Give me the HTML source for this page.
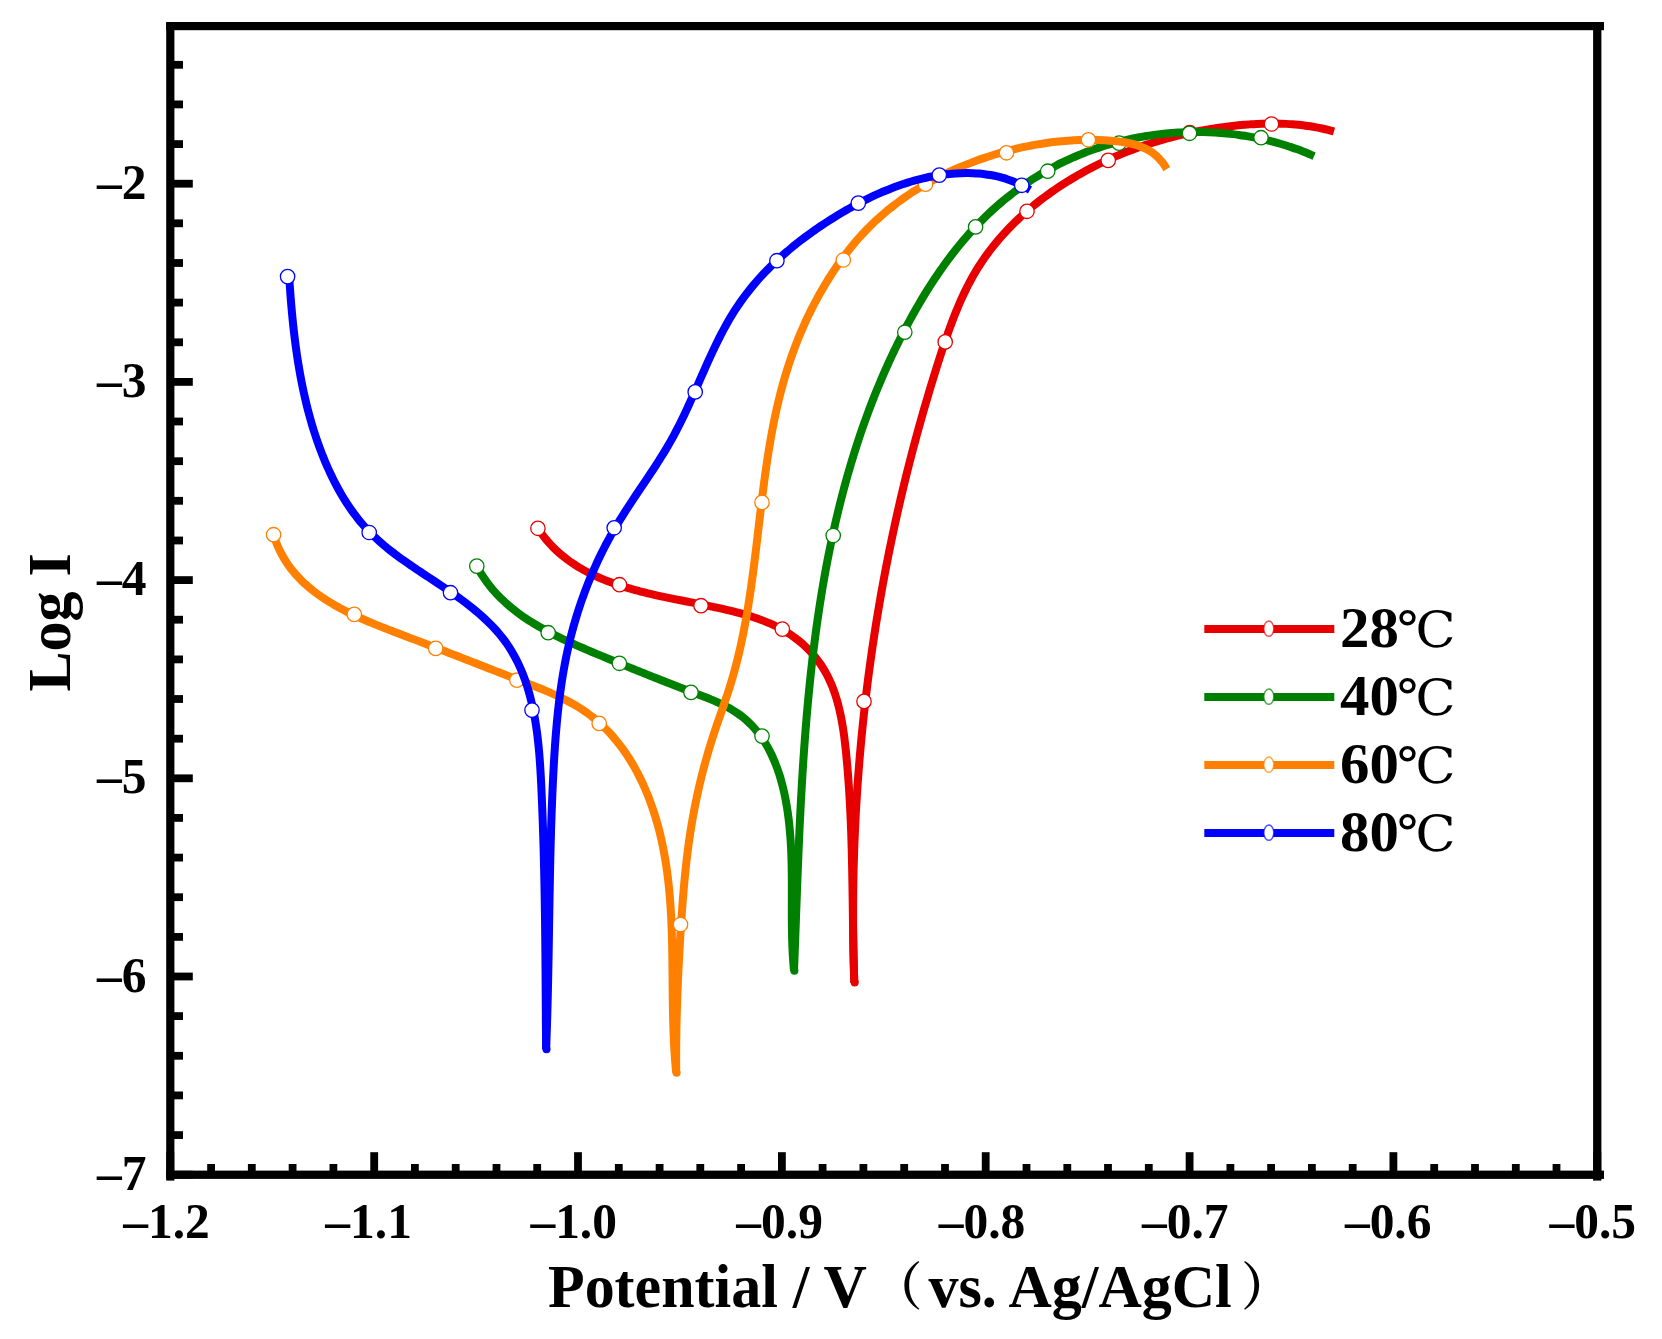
<!DOCTYPE html>
<html lang="en"><head><meta charset="utf-8"><title>Polarization curves</title>
<style>
html,body{margin:0;padding:0;background:#fff;}
body{width:1662px;height:1339px;overflow:hidden;}
svg{display:block;}
text{font-family:"Liberation Serif","Noto Serif CJK SC",serif;font-weight:bold;fill:#000;}
.tk{font-size:49.5px;}
.ti{font-size:60px;}
.pa{font-size:50px;font-family:"Noto Serif CJK SC","Liberation Serif",serif;font-weight:bold;}
.lg{font-size:56px;}
.dc{font-size:50px;font-family:"DejaVu Serif","Noto Serif CJK SC",serif;font-weight:normal;}
</style></head><body>
<svg width="1662" height="1339" viewBox="0 0 1662 1339">
<rect width="1662" height="1339" fill="#fff"/>
<g fill="none" stroke="#e80000" stroke-width="8.0" stroke-linecap="butt" stroke-linejoin="round">
<path d="M537.90,528.30C538.50,529.17 540.25,531.83 541.48,533.52C542.71,535.22 543.98,536.86 545.28,538.47C546.57,540.07 547.91,541.63 549.27,543.14C550.64,544.66 552.04,546.13 553.46,547.56C554.89,548.99 556.35,550.37 557.83,551.72C559.32,553.07 560.83,554.38 562.38,555.65C563.92,556.92 565.49,558.15 567.08,559.35C568.68,560.54 570.30,561.70 571.94,562.82C573.58,563.94 575.25,565.03 576.94,566.09C578.63,567.14 580.35,568.16 582.08,569.15C583.81,570.14 585.57,571.10 587.34,572.03C589.11,572.96 590.90,573.85 592.71,574.72C594.52,575.59 596.34,576.43 598.18,577.25C600.03,578.06 601.88,578.85 603.75,579.61C605.62,580.37 607.51,581.11 609.41,581.82C611.30,582.54 613.22,583.23 615.14,583.90C617.06,584.56 618.99,585.21 620.93,585.84C622.87,586.46 624.82,587.07 626.78,587.66C628.73,588.24 630.70,588.81 632.67,589.36C634.64,589.92 636.62,590.45 638.60,590.97C640.58,591.49 642.56,592.00 644.55,592.49C646.53,592.98 648.53,593.46 650.52,593.92C652.51,594.39 654.50,594.84 656.50,595.29C658.49,595.73 660.49,596.16 662.49,596.59C664.49,597.02 666.49,597.44 668.50,597.85C670.50,598.26 672.50,598.67 674.51,599.07C676.51,599.47 678.52,599.87 680.53,600.27C682.54,600.67 684.55,601.06 686.56,601.45C688.57,601.85 690.58,602.24 692.59,602.63C694.60,603.03 696.61,603.43 698.63,603.83C700.64,604.23 702.65,604.63 704.67,605.04C706.68,605.45 708.70,605.86 710.71,606.29C712.73,606.71 714.74,607.14 716.75,607.58C718.77,608.02 720.78,608.46 722.80,608.92C724.81,609.38 726.83,609.85 728.84,610.33C730.85,610.82 732.86,611.31 734.87,611.83C736.88,612.34 738.88,612.87 740.88,613.42C742.88,613.97 744.87,614.53 746.85,615.12C748.83,615.72 750.80,616.32 752.75,616.96C754.71,617.60 756.66,618.26 758.59,618.95C760.52,619.64 762.43,620.36 764.33,621.11C766.22,621.86 768.10,622.64 769.96,623.45C771.81,624.26 773.65,625.11 775.46,625.99C777.27,626.88 779.06,627.80 780.82,628.76C782.58,629.72 784.31,630.72 786.02,631.76C787.72,632.80 789.40,633.88 791.04,635.00C792.68,636.12 794.29,637.28 795.87,638.48C797.45,639.67 799.00,640.91 800.51,642.18C802.02,643.45 803.50,644.76 804.94,646.10C806.38,647.44 807.78,648.82 809.14,650.23C810.51,651.65 811.83,653.10 813.12,654.58C814.40,656.06 815.64,657.57 816.84,659.12C818.04,660.67 819.20,662.25 820.31,663.86C821.43,665.47 822.49,667.11 823.52,668.78C824.54,670.45 825.51,672.16 826.44,673.89C827.37,675.62 828.25,677.38 829.10,679.16C829.94,680.95 830.74,682.76 831.50,684.59C832.27,686.42 832.99,688.28 833.67,690.16C834.36,692.04 835.01,693.94 835.62,695.86C836.24,697.78 836.82,699.72 837.37,701.68C837.92,703.63 838.43,705.61 838.92,707.60C839.41,709.58 839.87,711.59 840.30,713.60C840.74,715.62 841.15,717.65 841.53,719.68C841.92,721.72 842.27,723.77 842.62,725.83C842.96,727.88 843.27,729.95 843.58,732.02C843.88,734.09 844.16,736.17 844.43,738.25C844.69,740.32 844.94,742.41 845.18,744.49C845.42,746.58 845.65,748.67 845.86,750.75C846.08,752.84 846.28,754.92 846.48,757.01C846.68,759.09 846.87,761.17 847.05,763.24C847.23,765.32 847.41,767.39 847.58,769.46C847.75,771.52 847.92,773.59 848.08,775.65C848.24,777.71 848.39,779.77 848.54,781.82C848.68,783.88 848.82,785.93 848.96,787.98C849.10,790.02 849.23,792.07 849.35,794.11C849.48,796.16 849.60,798.20 849.71,800.23C849.83,802.27 849.94,804.31 850.05,806.34C850.15,808.37 850.25,810.40 850.35,812.43C850.45,814.46 850.54,816.49 850.63,818.51C850.72,820.54 850.80,822.56 850.88,824.58C850.96,826.61 851.04,828.63 851.11,830.64C851.19,832.66 851.26,834.68 851.32,836.70C851.39,838.71 851.45,840.73 851.51,842.74C851.57,844.75 851.63,846.77 851.69,848.78C851.74,850.79 851.79,852.80 851.84,854.81C851.89,856.82 851.94,858.83 851.99,860.84C852.03,862.85 852.07,864.86 852.11,866.87C852.16,868.88 852.19,870.89 852.23,872.90C852.27,874.90 852.31,876.91 852.34,878.92C852.38,880.93 852.41,882.94 852.44,884.95C852.47,886.96 852.51,888.97 852.54,890.98C852.57,892.99 852.60,895.00 852.63,897.01C852.65,899.03 852.68,901.04 852.71,903.05C852.74,905.07 852.77,907.08 852.80,909.10C852.82,911.12 852.85,913.13 852.88,915.15C852.91,917.17 852.94,919.19 852.97,921.22C853.00,923.24 853.03,925.26 853.06,927.29C853.09,929.31 853.12,931.34 853.15,933.37C853.19,935.40 853.22,937.43 853.26,939.47C853.29,941.50 853.33,943.54 853.37,945.58C853.41,947.62 853.45,949.66 853.49,951.70C853.53,953.75 853.57,955.80 853.62,957.85C853.67,959.90 853.72,961.95 853.77,964.01C853.82,966.06 853.87,968.12 853.93,970.18C853.98,972.25 854.04,974.31 854.11,976.38C854.17,978.45 854.27,981.56 854.30,982.60"/>
<path d="M854.30,982.60C854.27,981.59 854.16,978.55 854.10,976.53C854.03,974.51 853.97,972.48 853.91,970.46C853.85,968.44 853.79,966.42 853.74,964.39C853.68,962.37 853.63,960.35 853.59,958.33C853.54,956.31 853.50,954.28 853.45,952.26C853.41,950.24 853.38,948.22 853.34,946.20C853.31,944.18 853.28,942.16 853.25,940.14C853.22,938.12 853.20,936.10 853.18,934.08C853.16,932.06 853.14,930.04 853.12,928.02C853.11,926.00 853.10,923.98 853.09,921.96C853.08,919.94 853.08,917.93 853.08,915.91C853.08,913.89 853.08,911.87 853.08,909.85C853.09,907.84 853.10,905.82 853.11,903.80C853.12,901.79 853.13,899.77 853.15,897.75C853.17,895.74 853.19,893.72 853.21,891.70C853.24,889.69 853.27,887.67 853.30,885.66C853.33,883.64 853.36,881.63 853.40,879.61C853.44,877.60 853.48,875.59 853.52,873.57C853.57,871.56 853.61,869.54 853.66,867.53C853.72,865.52 853.77,863.50 853.83,861.49C853.88,859.48 853.94,857.47 854.01,855.46C854.07,853.44 854.14,851.43 854.21,849.42C854.28,847.41 854.35,845.40 854.43,843.39C854.50,841.38 854.58,839.37 854.67,837.36C854.75,835.35 854.84,833.34 854.93,831.33C855.02,829.32 855.11,827.31 855.21,825.30C855.30,823.29 855.40,821.28 855.50,819.27C855.61,817.27 855.71,815.26 855.82,813.25C855.93,811.24 856.04,809.24 856.16,807.23C856.28,805.22 856.40,803.22 856.52,801.21C856.64,799.21 856.77,797.20 856.90,795.19C857.02,793.19 857.16,791.18 857.29,789.18C857.43,787.18 857.57,785.17 857.71,783.17C857.85,781.16 858.00,779.16 858.14,777.16C858.29,775.15 858.45,773.15 858.60,771.15C858.76,769.15 858.91,767.14 859.08,765.14C859.24,763.14 859.40,761.14 859.57,759.14C859.74,757.14 859.91,755.14 860.09,753.14C860.26,751.14 860.44,749.14 860.62,747.14C860.80,745.14 860.99,743.14 861.17,741.14C861.36,739.14 861.55,737.15 861.75,735.15C861.94,733.15 862.14,731.15 862.34,729.16C862.54,727.16 862.75,725.16 862.96,723.17C863.16,721.17 863.37,719.17 863.59,717.18C863.80,715.18 864.02,713.19 864.24,711.19C864.46,709.20 864.69,707.20 864.91,705.21C865.14,703.22 865.37,701.22 865.61,699.23C865.84,697.24 866.08,695.24 866.32,693.25C866.56,691.26 866.80,689.27 867.05,687.28C867.30,685.29 867.55,683.30 867.80,681.31C868.06,679.31 868.31,677.32 868.57,675.34C868.83,673.35 869.10,671.36 869.36,669.37C869.63,667.38 869.90,665.39 870.18,663.40C870.45,661.41 870.73,659.43 871.01,657.44C871.29,655.45 871.57,653.47 871.86,651.48C872.14,649.49 872.43,647.51 872.73,645.52C873.02,643.54 873.32,641.55 873.62,639.57C873.92,637.59 874.22,635.60 874.53,633.62C874.84,631.63 875.15,629.65 875.46,627.67C875.77,625.69 876.09,623.70 876.41,621.72C876.73,619.74 877.05,617.76 877.38,615.78C877.70,613.80 878.03,611.82 878.37,609.84C878.70,607.86 879.04,605.88 879.38,603.90C879.72,601.92 880.06,599.94 880.41,597.97C880.75,595.99 881.10,594.01 881.46,592.03C881.81,590.06 882.17,588.08 882.53,586.10C882.89,584.13 883.25,582.15 883.61,580.18C883.98,578.20 884.35,576.23 884.72,574.25C885.10,572.28 885.47,570.31 885.85,568.33C886.23,566.36 886.62,564.39 887.00,562.42C887.39,560.44 887.78,558.47 888.17,556.50C888.56,554.53 888.96,552.56 889.36,550.59C889.76,548.62 890.16,546.65 890.57,544.68C890.97,542.71 891.38,540.74 891.80,538.78C892.21,536.81 892.63,534.84 893.05,532.87C893.47,530.91 893.89,528.94 894.32,526.97C894.74,525.01 895.17,523.04 895.60,521.08C896.04,519.11 896.47,517.15 896.91,515.18C897.35,513.22 897.80,511.26 898.24,509.29C898.69,507.33 899.14,505.37 899.59,503.41C900.04,501.45 900.50,499.48 900.96,497.52C901.42,495.56 901.88,493.60 902.35,491.64C902.81,489.68 903.28,487.72 903.76,485.77C904.23,483.81 904.71,481.85 905.19,479.89C905.66,477.93 906.15,475.98 906.63,474.02C907.12,472.06 907.61,470.11 908.10,468.15C908.60,466.20 909.09,464.24 909.59,462.29C910.09,460.33 910.60,458.38 911.10,456.43C911.61,454.48 912.12,452.52 912.63,450.57C913.14,448.62 913.66,446.67 914.18,444.72C914.70,442.77 915.22,440.82 915.75,438.87C916.28,436.92 916.81,434.97 917.34,433.02C917.87,431.07 918.41,429.12 918.95,427.18C919.49,425.23 920.03,423.28 920.58,421.33C921.12,419.39 921.67,417.44 922.23,415.50C922.78,413.55 923.34,411.61 923.90,409.66C924.46,407.72 925.02,405.78 925.59,403.83C926.15,401.89 926.72,399.95 927.30,398.01C927.87,396.07 928.45,394.13 929.03,392.19C929.61,390.25 930.19,388.31 930.78,386.37C931.37,384.43 931.96,382.49 932.55,380.55C933.14,378.61 933.74,376.68 934.34,374.74C934.94,372.80 935.55,370.87 936.15,368.93C936.76,367.00 937.37,365.06 937.98,363.13C938.60,361.19 939.21,359.26 939.84,357.33C940.46,355.39 941.08,353.46 941.71,351.53C942.34,349.60 942.98,347.67 943.62,345.75C944.26,343.82 944.91,341.90 945.56,339.98C946.22,338.06 946.88,336.15 947.55,334.24C948.22,332.33 948.90,330.42 949.59,328.52C950.28,326.62 950.98,324.72 951.69,322.83C952.40,320.94 953.12,319.05 953.85,317.18C954.59,315.30 955.33,313.43 956.09,311.56C956.85,309.70 957.62,307.84 958.40,306.00C959.19,304.15 959.99,302.31 960.81,300.48C961.62,298.65 962.45,296.83 963.30,295.02C964.15,293.21 965.01,291.41 965.89,289.62C966.77,287.83 967.67,286.05 968.59,284.28C969.51,282.52 970.45,280.76 971.40,279.02C972.36,277.28 973.34,275.54 974.34,273.83C975.34,272.11 976.35,270.41 977.40,268.72C978.44,267.03 979.50,265.35 980.59,263.69C981.68,262.03 982.79,260.38 983.92,258.75C985.05,257.12 986.20,255.50 987.37,253.90C988.54,252.29 989.74,250.70 990.95,249.13C992.16,247.55 993.40,245.99 994.65,244.45C995.90,242.90 997.17,241.37 998.47,239.85C999.76,238.34 1001.07,236.84 1002.40,235.35C1003.72,233.86 1005.07,232.39 1006.44,230.93C1007.80,229.47 1009.18,228.03 1010.58,226.60C1011.98,225.17 1013.40,223.76 1014.83,222.36C1016.26,220.96 1017.71,219.58 1019.18,218.21C1020.64,216.84 1022.12,215.48 1023.61,214.14C1025.11,212.80 1026.62,211.48 1028.14,210.17C1029.67,208.86 1031.21,207.56 1032.76,206.28C1034.31,205.00 1035.88,203.74 1037.46,202.49C1039.04,201.24 1040.63,200.00 1042.24,198.78C1043.84,197.56 1045.46,196.36 1047.09,195.17C1048.72,193.98 1050.36,192.80 1052.02,191.64C1053.67,190.48 1055.33,189.34 1057.01,188.21C1058.68,187.08 1060.37,185.97 1062.06,184.87C1063.76,183.77 1065.47,182.69 1067.18,181.62C1068.89,180.55 1070.62,179.50 1072.35,178.46C1074.09,177.42 1075.83,176.40 1077.58,175.39C1079.33,174.38 1081.09,173.39 1082.86,172.42C1084.63,171.44 1086.41,170.48 1088.19,169.53C1089.98,168.58 1091.77,167.65 1093.57,166.73C1095.37,165.82 1097.18,164.92 1099.00,164.03C1100.82,163.14 1102.64,162.27 1104.47,161.41C1106.30,160.56 1108.14,159.72 1109.99,158.89C1111.84,158.06 1113.69,157.25 1115.55,156.45C1117.41,155.65 1119.27,154.87 1121.15,154.10C1123.02,153.34 1124.90,152.58 1126.78,151.85C1128.67,151.11 1130.56,150.38 1132.45,149.67C1134.35,148.97 1136.25,148.27 1138.16,147.59C1140.07,146.91 1141.98,146.25 1143.90,145.60C1145.82,144.95 1147.74,144.31 1149.67,143.69C1151.59,143.07 1153.53,142.46 1155.46,141.87C1157.40,141.27 1159.34,140.70 1161.28,140.13C1163.23,139.57 1165.18,139.02 1167.13,138.48C1169.08,137.95 1171.04,137.43 1173.00,136.92C1174.96,136.42 1176.92,135.93 1178.89,135.45C1180.86,134.97 1182.83,134.51 1184.80,134.06C1186.77,133.61 1188.75,133.17 1190.73,132.75C1192.70,132.33 1194.68,131.92 1196.67,131.53C1198.65,131.14 1200.63,130.76 1202.62,130.40C1204.61,130.03 1206.59,129.68 1208.58,129.34C1210.57,129.01 1212.56,128.69 1214.56,128.38C1216.55,128.07 1218.54,127.77 1220.54,127.49C1222.53,127.21 1224.53,126.95 1226.52,126.69C1228.52,126.44 1230.52,126.20 1232.51,125.98C1234.51,125.75 1236.51,125.54 1238.51,125.34C1240.50,125.14 1242.50,124.96 1244.50,124.79C1246.49,124.62 1248.49,124.47 1250.49,124.33C1252.48,124.19 1254.48,124.07 1256.48,123.97C1258.47,123.86 1260.47,123.77 1262.46,123.71C1264.46,123.64 1266.45,123.59 1268.45,123.56C1270.44,123.53 1272.44,123.52 1274.43,123.53C1276.42,123.55 1278.42,123.58 1280.41,123.63C1282.40,123.69 1284.39,123.77 1286.38,123.87C1288.38,123.97 1290.37,124.09 1292.36,124.25C1294.35,124.40 1296.33,124.57 1298.32,124.77C1300.31,124.97 1302.30,125.20 1304.28,125.46C1306.27,125.71 1308.26,125.99 1310.24,126.31C1312.22,126.62 1314.21,126.96 1316.19,127.33C1318.17,127.70 1320.15,128.10 1322.13,128.53C1324.11,128.96 1326.09,129.42 1328.07,129.92C1330.05,130.41 1333.01,131.24 1334.00,131.50"/>
</g>
<circle cx="854.7" cy="982.6" r="4.0" fill="#e80000"/>
<g fill="#fff" stroke="#e80000" stroke-width="1.3">
<circle cx="537.9" cy="528.3" r="7.2"/>
<circle cx="619.5" cy="584.7" r="7.2"/>
<circle cx="701.0" cy="605.7" r="7.2"/>
<circle cx="782.3" cy="629.1" r="7.2"/>
<circle cx="864.0" cy="701.4" r="7.2"/>
<circle cx="945.2" cy="341.9" r="7.2"/>
<circle cx="1027.0" cy="211.3" r="7.2"/>
<circle cx="1108.2" cy="160.4" r="7.2"/>
<circle cx="1189.7" cy="132.6" r="7.2"/>
<circle cx="1271.5" cy="124.0" r="7.2"/>
</g>
<g fill="none" stroke="#008000" stroke-width="8.0" stroke-linecap="butt" stroke-linejoin="round">
<path d="M476.80,566.10C477.31,567.01 478.81,569.79 479.88,571.58C480.94,573.37 482.04,575.12 483.17,576.83C484.31,578.54 485.48,580.22 486.68,581.86C487.89,583.50 489.13,585.10 490.39,586.67C491.66,588.24 492.96,589.78 494.29,591.28C495.62,592.79 496.99,594.26 498.38,595.70C499.76,597.14 501.18,598.55 502.63,599.93C504.07,601.31 505.55,602.66 507.04,603.98C508.54,605.30 510.06,606.60 511.61,607.86C513.15,609.13 514.72,610.37 516.31,611.59C517.90,612.80 519.52,613.99 521.15,615.16C522.78,616.32 524.44,617.46 526.11,618.58C527.78,619.70 529.47,620.80 531.18,621.88C532.88,622.95 534.61,624.01 536.35,625.04C538.09,626.08 539.84,627.09 541.61,628.09C543.38,629.09 545.16,630.07 546.95,631.03C548.75,632.00 550.55,632.94 552.37,633.88C554.18,634.81 556.01,635.72 557.85,636.63C559.68,637.53 561.52,638.42 563.37,639.30C565.22,640.17 567.08,641.04 568.94,641.89C570.81,642.75 572.68,643.59 574.55,644.42C576.42,645.26 578.29,646.08 580.17,646.90C582.05,647.72 583.93,648.52 585.81,649.33C587.68,650.13 589.57,650.92 591.44,651.71C593.32,652.50 595.20,653.29 597.07,654.07C598.95,654.85 600.82,655.63 602.68,656.41C604.55,657.19 606.42,657.96 608.28,658.73C610.14,659.50 612.00,660.27 613.85,661.03C615.71,661.80 617.56,662.56 619.42,663.33C621.27,664.09 623.13,664.85 624.98,665.61C626.83,666.36 628.68,667.12 630.54,667.87C632.39,668.63 634.25,669.38 636.10,670.13C637.96,670.88 639.81,671.63 641.67,672.38C643.53,673.13 645.40,673.88 647.26,674.62C649.13,675.37 650.99,676.12 652.87,676.86C654.74,677.61 656.61,678.35 658.50,679.09C660.38,679.84 662.26,680.58 664.15,681.32C666.05,682.07 667.94,682.81 669.85,683.55C671.75,684.29 673.66,685.04 675.58,685.78C677.49,686.52 679.42,687.26 681.35,688.01C683.28,688.75 685.22,689.49 687.17,690.24C689.12,690.98 691.08,691.72 693.05,692.47C695.01,693.22 696.99,693.96 698.96,694.72C700.94,695.48 702.92,696.24 704.88,697.02C706.85,697.80 708.81,698.58 710.76,699.40C712.71,700.21 714.64,701.03 716.55,701.89C718.46,702.74 720.36,703.62 722.22,704.52C724.08,705.43 725.92,706.37 727.72,707.34C729.52,708.31 731.29,709.32 733.01,710.37C734.73,711.42 736.42,712.50 738.05,713.64C739.68,714.77 741.27,715.95 742.80,717.18C744.34,718.40 745.82,719.68 747.26,720.99C748.71,722.30 750.10,723.65 751.45,725.05C752.80,726.44 754.10,727.87 755.36,729.34C756.62,730.81 757.83,732.32 759.01,733.86C760.18,735.40 761.31,736.98 762.41,738.59C763.50,740.20 764.55,741.84 765.56,743.51C766.57,745.18 767.55,746.88 768.48,748.61C769.42,750.34 770.31,752.10 771.18,753.88C772.04,755.66 772.86,757.46 773.66,759.29C774.45,761.12 775.20,762.97 775.93,764.84C776.65,766.72 777.34,768.61 778.00,770.52C778.66,772.43 779.29,774.36 779.89,776.30C780.49,778.24 781.05,780.20 781.59,782.18C782.13,784.15 782.65,786.13 783.13,788.13C783.62,790.12 784.07,792.13 784.50,794.15C784.94,796.16 785.34,798.19 785.73,800.21C786.11,802.24 786.47,804.28 786.80,806.32C787.14,808.35 787.45,810.40 787.75,812.44C788.04,814.48 788.31,816.53 788.57,818.57C788.82,820.61 789.05,822.66 789.27,824.70C789.49,826.74 789.68,828.78 789.87,830.82C790.05,832.86 790.21,834.90 790.36,836.94C790.51,838.98 790.65,841.01 790.77,843.05C790.89,845.09 791.00,847.12 791.10,849.16C791.19,851.20 791.28,853.23 791.35,855.27C791.43,857.30 791.49,859.33 791.54,861.37C791.60,863.40 791.64,865.43 791.68,867.46C791.71,869.50 791.74,871.53 791.77,873.56C791.79,875.59 791.80,877.62 791.82,879.65C791.83,881.68 791.83,883.71 791.84,885.74C791.84,887.77 791.84,889.80 791.84,891.82C791.84,893.85 791.83,895.88 791.83,897.91C791.83,899.93 791.82,901.96 791.82,903.99C791.82,906.01 791.81,908.04 791.81,910.07C791.81,912.09 791.82,914.12 791.82,916.14C791.83,918.17 791.84,920.20 791.85,922.22C791.87,924.25 791.89,926.27 791.92,928.30C791.95,930.32 791.98,932.34 792.02,934.37C792.07,936.39 792.12,938.42 792.18,940.44C792.24,942.47 792.31,944.49 792.39,946.51C792.47,948.54 792.57,950.56 792.67,952.59C792.78,954.61 792.89,956.63 793.03,958.66C793.16,960.68 793.31,962.70 793.47,964.73C793.63,966.75 793.91,969.79 794.00,970.80"/>
<path d="M794.00,970.80C794.04,969.81 794.16,966.84 794.23,964.85C794.31,962.87 794.39,960.89 794.46,958.90C794.54,956.92 794.62,954.93 794.69,952.94C794.77,950.96 794.84,948.97 794.92,946.98C794.99,944.99 795.06,943.00 795.14,941.00C795.21,939.01 795.29,937.02 795.36,935.02C795.43,933.03 795.51,931.03 795.58,929.03C795.65,927.04 795.72,925.04 795.80,923.04C795.87,921.04 795.94,919.04 796.02,917.04C796.09,915.03 796.16,913.03 796.24,911.03C796.31,909.02 796.38,907.02 796.46,905.01C796.53,903.01 796.61,901.00 796.68,898.99C796.76,896.99 796.83,894.98 796.91,892.97C796.98,890.96 797.06,888.95 797.13,886.94C797.21,884.93 797.29,882.91 797.36,880.90C797.44,878.89 797.52,876.87 797.60,874.86C797.68,872.85 797.76,870.83 797.84,868.81C797.92,866.80 798.00,864.78 798.08,862.76C798.16,860.75 798.24,858.73 798.33,856.71C798.41,854.69 798.50,852.67 798.58,850.65C798.67,848.63 798.75,846.61 798.84,844.59C798.93,842.57 799.02,840.55 799.11,838.53C799.20,836.50 799.29,834.48 799.38,832.46C799.47,830.44 799.57,828.41 799.66,826.39C799.76,824.36 799.86,822.34 799.95,820.32C800.05,818.29 800.15,816.27 800.25,814.24C800.35,812.21 800.46,810.19 800.56,808.16C800.66,806.14 800.77,804.11 800.88,802.08C800.99,800.06 801.09,798.03 801.21,796.00C801.32,793.98 801.43,791.95 801.54,789.92C801.66,787.89 801.78,785.87 801.89,783.84C802.01,781.81 802.13,779.78 802.26,777.75C802.38,775.73 802.50,773.70 802.63,771.67C802.76,769.64 802.89,767.61 803.02,765.58C803.15,763.56 803.28,761.53 803.42,759.50C803.55,757.47 803.69,755.44 803.83,753.41C803.97,751.39 804.12,749.36 804.26,747.33C804.41,745.30 804.56,743.27 804.71,741.25C804.86,739.22 805.01,737.19 805.17,735.16C805.32,733.14 805.48,731.11 805.64,729.08C805.80,727.06 805.97,725.03 806.13,723.00C806.30,720.98 806.47,718.95 806.64,716.93C806.81,714.90 806.99,712.87 807.17,710.85C807.35,708.82 807.53,706.80 807.71,704.77C807.90,702.75 808.08,700.73 808.27,698.70C808.46,696.68 808.66,694.66 808.86,692.63C809.05,690.61 809.25,688.59 809.46,686.57C809.66,684.55 809.87,682.53 810.08,680.51C810.29,678.49 810.50,676.47 810.72,674.45C810.94,672.43 811.16,670.41 811.38,668.39C811.61,666.37 811.84,664.36 812.07,662.34C812.30,660.32 812.54,658.31 812.78,656.29C813.01,654.28 813.26,652.26 813.50,650.25C813.75,648.24 814.00,646.22 814.26,644.21C814.51,642.20 814.77,640.19 815.03,638.18C815.30,636.17 815.56,634.16 815.83,632.15C816.11,630.14 816.38,628.13 816.66,626.13C816.94,624.12 817.22,622.11 817.51,620.11C817.80,618.11 818.09,616.10 818.39,614.10C818.68,612.10 818.98,610.10 819.29,608.09C819.59,606.09 819.90,604.09 820.22,602.10C820.53,600.10 820.85,598.10 821.17,596.11C821.50,594.11 821.82,592.11 822.16,590.12C822.49,588.13 822.83,586.13 823.17,584.14C823.51,582.15 823.86,580.16 824.21,578.17C824.56,576.19 824.92,574.20 825.28,572.21C825.64,570.23 826.01,568.24 826.38,566.26C826.75,564.27 827.13,562.29 827.51,560.31C827.89,558.33 828.28,556.35 828.67,554.37C829.07,552.40 829.46,550.42 829.87,548.45C830.27,546.47 830.68,544.50 831.09,542.53C831.50,540.55 831.92,538.58 832.35,536.62C832.77,534.65 833.20,532.68 833.64,530.71C834.07,528.75 834.51,526.79 834.96,524.82C835.41,522.86 835.86,520.90 836.32,518.94C836.78,516.98 837.24,515.03 837.71,513.07C838.18,511.12 838.66,509.16 839.14,507.21C839.62,505.26 840.11,503.31 840.60,501.36C841.09,499.41 841.59,497.47 842.10,495.52C842.60,493.58 843.12,491.64 843.63,489.69C844.15,487.75 844.67,485.82 845.21,483.88C845.74,481.94 846.27,480.01 846.81,478.07C847.36,476.14 847.91,474.21 848.46,472.28C849.02,470.35 849.58,468.43 850.15,466.50C850.72,464.58 851.29,462.65 851.87,460.73C852.45,458.81 853.04,456.90 853.64,454.98C854.23,453.06 854.83,451.15 855.44,449.24C856.05,447.33 856.67,445.42 857.29,443.51C857.91,441.60 858.54,439.70 859.17,437.79C859.81,435.89 860.45,433.99 861.10,432.09C861.75,430.19 862.41,428.30 863.07,426.41C863.74,424.51 864.41,422.62 865.09,420.73C865.76,418.84 866.45,416.96 867.14,415.07C867.83,413.19 868.53,411.31 869.24,409.43C869.95,407.55 870.66,405.67 871.39,403.80C872.11,401.93 872.84,400.06 873.57,398.19C874.31,396.32 875.06,394.45 875.81,392.59C876.56,390.73 877.32,388.87 878.09,387.01C878.86,385.15 879.63,383.29 880.41,381.44C881.20,379.59 881.99,377.74 882.79,375.89C883.59,374.04 884.39,372.20 885.21,370.36C886.02,368.52 886.84,366.68 887.67,364.84C888.51,363.00 889.34,361.17 890.19,359.34C891.04,357.51 891.89,355.68 892.76,353.86C893.62,352.03 894.49,350.21 895.37,348.39C896.25,346.57 897.14,344.76 898.03,342.95C898.93,341.13 899.84,339.32 900.75,337.52C901.66,335.71 902.58,333.91 903.52,332.11C904.45,330.31 905.38,328.51 906.33,326.71C907.28,324.92 908.24,323.13 909.20,321.34C910.17,319.56 911.14,317.77 912.12,316.00C913.11,314.22 914.10,312.44 915.10,310.68C916.10,308.91 917.12,307.14 918.14,305.39C919.16,303.63 920.19,301.88 921.23,300.13C922.27,298.38 923.32,296.64 924.38,294.91C925.44,293.17 926.51,291.45 927.58,289.72C928.66,288.00 929.75,286.29 930.85,284.58C931.95,282.88 933.06,281.18 934.18,279.48C935.30,277.79 936.43,276.11 937.58,274.43C938.72,272.76 939.87,271.09 941.03,269.43C942.20,267.77 943.37,266.12 944.55,264.48C945.74,262.84 946.93,261.21 948.14,259.59C949.35,257.97 950.57,256.36 951.80,254.76C953.03,253.16 954.27,251.56 955.52,249.98C956.77,248.40 958.04,246.83 959.31,245.27C960.59,243.72 961.87,242.17 963.17,240.63C964.47,239.10 965.78,237.57 967.11,236.06C968.43,234.55 969.77,233.05 971.12,231.56C972.46,230.07 973.82,228.60 975.20,227.14C976.57,225.68 977.95,224.23 979.35,222.79C980.75,221.36 982.16,219.93 983.58,218.53C985.01,217.12 986.44,215.73 987.89,214.35C989.34,212.97 990.81,211.60 992.28,210.25C993.76,208.90 995.25,207.57 996.75,206.25C998.25,204.93 999.76,203.62 1001.29,202.34C1002.82,201.05 1004.36,199.77 1005.91,198.51C1007.46,197.26 1009.03,196.01 1010.60,194.79C1012.18,193.56 1013.77,192.35 1015.37,191.15C1016.97,189.96 1018.58,188.78 1020.21,187.62C1021.83,186.45 1023.47,185.31 1025.11,184.18C1026.76,183.05 1028.42,181.93 1030.09,180.84C1031.76,179.74 1033.44,178.66 1035.13,177.60C1036.83,176.54 1038.53,175.49 1040.25,174.46C1041.96,173.43 1043.69,172.42 1045.42,171.43C1047.16,170.43 1048.90,169.46 1050.66,168.50C1052.42,167.54 1054.19,166.60 1055.96,165.68C1057.74,164.76 1059.53,163.85 1061.33,162.96C1063.12,162.08 1064.93,161.21 1066.75,160.36C1068.57,159.51 1070.39,158.68 1072.23,157.87C1074.07,157.05 1075.91,156.26 1077.77,155.49C1079.62,154.71 1081.49,153.95 1083.36,153.22C1085.24,152.48 1087.12,151.76 1089.01,151.06C1090.90,150.36 1092.80,149.68 1094.70,149.02C1096.61,148.36 1098.53,147.72 1100.45,147.10C1102.37,146.47 1104.30,145.87 1106.23,145.29C1108.17,144.70 1110.11,144.13 1112.06,143.59C1114.01,143.04 1115.97,142.51 1117.93,142.01C1119.89,141.50 1121.86,141.01 1123.83,140.54C1125.80,140.07 1127.78,139.62 1129.76,139.19C1131.74,138.76 1133.73,138.35 1135.72,137.95C1137.72,137.56 1139.71,137.19 1141.71,136.83C1143.71,136.48 1145.72,136.15 1147.73,135.83C1149.74,135.52 1151.75,135.22 1153.76,134.94C1155.78,134.67 1157.79,134.41 1159.82,134.17C1161.84,133.94 1163.86,133.72 1165.88,133.52C1167.91,133.32 1169.94,133.14 1171.96,132.99C1173.99,132.83 1176.02,132.69 1178.05,132.57C1180.09,132.45 1182.12,132.35 1184.15,132.27C1186.18,132.19 1188.22,132.13 1190.25,132.09C1192.29,132.04 1194.32,132.02 1196.35,132.02C1198.39,132.02 1200.42,132.04 1202.45,132.08C1204.49,132.12 1206.52,132.17 1208.55,132.25C1210.58,132.33 1212.61,132.43 1214.64,132.54C1216.66,132.66 1218.69,132.80 1220.71,132.96C1222.74,133.11 1224.76,133.29 1226.78,133.49C1228.80,133.69 1230.81,133.90 1232.83,134.14C1234.84,134.38 1236.85,134.64 1238.85,134.92C1240.86,135.19 1242.86,135.49 1244.86,135.81C1246.86,136.13 1248.85,136.47 1250.84,136.82C1252.83,137.18 1254.81,137.56 1256.79,137.96C1258.77,138.36 1260.75,138.78 1262.71,139.22C1264.68,139.66 1266.64,140.12 1268.60,140.60C1270.56,141.08 1272.51,141.58 1274.45,142.11C1276.39,142.63 1278.33,143.17 1280.26,143.73C1282.19,144.29 1284.11,144.88 1286.03,145.48C1287.94,146.09 1289.85,146.71 1291.75,147.36C1293.64,148.00 1295.53,148.67 1297.42,149.35C1299.30,150.04 1301.17,150.75 1303.03,151.48C1304.90,152.21 1306.75,152.96 1308.60,153.73C1310.44,154.50 1313.18,155.70 1314.10,156.10"/>
</g>
<circle cx="794.4" cy="970.8" r="4.0" fill="#008000"/>
<g fill="#fff" stroke="#008000" stroke-width="1.3">
<circle cx="476.8" cy="566.1" r="7.2"/>
<circle cx="548.2" cy="632.7" r="7.2"/>
<circle cx="619.4" cy="663.3" r="7.2"/>
<circle cx="691.0" cy="692.4" r="7.2"/>
<circle cx="762.0" cy="736.1" r="7.2"/>
<circle cx="833.2" cy="535.5" r="7.2"/>
<circle cx="904.8" cy="332.2" r="7.2"/>
<circle cx="975.6" cy="226.9" r="7.2"/>
<circle cx="1047.7" cy="171.2" r="7.2"/>
<circle cx="1119.1" cy="143.1" r="7.2"/>
<circle cx="1189.5" cy="133.3" r="7.2"/>
<circle cx="1261.0" cy="137.7" r="7.2"/>
</g>
<g fill="none" stroke="#ff8000" stroke-width="8.0" stroke-linecap="butt" stroke-linejoin="round">
<path d="M273.60,534.70C273.93,535.71 274.90,538.78 275.62,540.76C276.35,542.73 277.12,544.66 277.95,546.55C278.77,548.44 279.64,550.28 280.56,552.09C281.47,553.90 282.43,555.66 283.44,557.39C284.44,559.11 285.49,560.80 286.58,562.45C287.67,564.10 288.80,565.71 289.97,567.28C291.14,568.86 292.35,570.40 293.60,571.90C294.85,573.41 296.13,574.88 297.45,576.32C298.77,577.75 300.13,579.16 301.52,580.53C302.91,581.90 304.33,583.24 305.78,584.56C307.24,585.87 308.72,587.15 310.24,588.40C311.75,589.66 313.30,590.88 314.87,592.08C316.44,593.28 318.04,594.45 319.66,595.59C321.29,596.74 322.94,597.86 324.61,598.96C326.28,600.05 327.98,601.13 329.70,602.18C331.41,603.23 333.16,604.26 334.91,605.26C336.67,606.27 338.45,607.26 340.25,608.23C342.04,609.20 343.85,610.14 345.68,611.08C347.51,612.01 349.35,612.92 351.21,613.82C353.07,614.72 354.94,615.60 356.82,616.46C358.70,617.33 360.59,618.18 362.50,619.02C364.40,619.86 366.31,620.69 368.23,621.50C370.15,622.32 372.07,623.12 374.00,623.91C375.94,624.70 377.87,625.49 379.81,626.26C381.75,627.04 383.70,627.80 385.64,628.56C387.59,629.32 389.53,630.07 391.48,630.82C393.42,631.57 395.37,632.31 397.31,633.05C399.25,633.79 401.19,634.52 403.13,635.25C405.06,635.98 406.99,636.71 408.91,637.44C410.84,638.17 412.75,638.90 414.66,639.62C416.57,640.35 418.47,641.08 420.37,641.81C422.27,642.53 424.16,643.26 426.05,643.98C427.94,644.71 429.82,645.44 431.70,646.16C433.58,646.89 435.45,647.61 437.32,648.34C439.20,649.06 441.06,649.78 442.93,650.51C444.79,651.23 446.66,651.96 448.52,652.68C450.38,653.41 452.24,654.13 454.09,654.86C455.95,655.58 457.81,656.31 459.66,657.03C461.52,657.76 463.37,658.48 465.23,659.21C467.09,659.93 468.94,660.66 470.80,661.38C472.66,662.11 474.51,662.84 476.37,663.56C478.23,664.29 480.09,665.02 481.96,665.74C483.82,666.47 485.69,667.20 487.55,667.93C489.42,668.66 491.30,669.39 493.17,670.12C495.05,670.85 496.93,671.58 498.81,672.31C500.70,673.05 502.59,673.78 504.48,674.51C506.38,675.25 508.28,675.98 510.18,676.72C512.09,677.45 514.00,678.19 515.92,678.93C517.84,679.67 519.76,680.40 521.69,681.15C523.62,681.89 525.56,682.63 527.49,683.38C529.43,684.13 531.37,684.89 533.31,685.66C535.24,686.42 537.18,687.19 539.11,687.98C541.04,688.76 542.97,689.56 544.88,690.37C546.80,691.17 548.72,691.99 550.62,692.83C552.52,693.67 554.41,694.52 556.29,695.40C558.17,696.27 560.04,697.16 561.88,698.07C563.73,698.98 565.57,699.91 567.38,700.87C569.20,701.82 570.99,702.80 572.77,703.81C574.54,704.81 576.29,705.84 578.02,706.90C579.75,707.96 581.45,709.05 583.13,710.17C584.80,711.29 586.45,712.44 588.07,713.62C589.68,714.81 591.27,716.02 592.84,717.26C594.40,718.51 595.93,719.78 597.44,721.09C598.94,722.39 600.42,723.72 601.87,725.08C603.32,726.44 604.74,727.83 606.14,729.24C607.53,730.66 608.90,732.10 610.24,733.56C611.59,735.03 612.90,736.52 614.19,738.03C615.48,739.55 616.74,741.09 617.98,742.65C619.22,744.21 620.43,745.79 621.61,747.40C622.80,749.01 623.96,750.63 625.09,752.28C626.23,753.93 627.34,755.60 628.42,757.28C629.51,758.97 630.57,760.68 631.61,762.40C632.64,764.13 633.65,765.87 634.64,767.63C635.63,769.39 636.60,771.16 637.54,772.95C638.48,774.74 639.39,776.55 640.29,778.37C641.18,780.19 642.05,782.03 642.90,783.87C643.75,785.72 644.57,787.58 645.38,789.46C646.18,791.33 646.96,793.21 647.72,795.11C648.48,797.00 649.21,798.91 649.93,800.82C650.64,802.74 651.34,804.66 652.01,806.59C652.68,808.53 653.33,810.47 653.96,812.41C654.59,814.36 655.20,816.32 655.79,818.27C656.38,820.23 656.95,822.20 657.50,824.17C658.05,826.14 658.57,828.11 659.08,830.09C659.59,832.07 660.08,834.05 660.55,836.03C661.02,838.02 661.47,840.00 661.90,841.99C662.34,843.98 662.75,845.97 663.15,847.96C663.55,849.95 663.93,851.95 664.29,853.95C664.65,855.95 665.00,857.95 665.33,859.95C665.66,861.95 665.97,863.95 666.27,865.96C666.57,867.97 666.86,869.98 667.13,871.99C667.40,874.00 667.66,876.01 667.90,878.02C668.14,880.04 668.37,882.05 668.59,884.07C668.81,886.09 669.01,888.11 669.20,890.13C669.40,892.15 669.58,894.17 669.75,896.19C669.92,898.22 670.07,900.24 670.22,902.27C670.37,904.30 670.51,906.32 670.64,908.35C670.77,910.38 670.89,912.41 671.00,914.44C671.11,916.47 671.21,918.51 671.30,920.54C671.40,922.57 671.48,924.61 671.56,926.64C671.64,928.68 671.72,930.71 671.78,932.75C671.85,934.78 671.91,936.82 671.96,938.86C672.02,940.90 672.07,942.93 672.11,944.97C672.16,947.01 672.20,949.05 672.23,951.09C672.27,953.13 672.30,955.17 672.33,957.21C672.36,959.25 672.38,961.29 672.41,963.33C672.43,965.36 672.45,967.40 672.47,969.44C672.50,971.48 672.51,973.52 672.53,975.56C672.55,977.60 672.57,979.64 672.59,981.68C672.60,983.72 672.62,985.76 672.64,987.80C672.66,989.84 672.68,991.87 672.70,993.91C672.72,995.95 672.75,997.98 672.77,1000.02C672.80,1002.06 672.83,1004.09 672.86,1006.13C672.89,1008.16 672.93,1010.19 672.97,1012.23C673.01,1014.26 673.05,1016.29 673.10,1018.32C673.15,1020.35 673.20,1022.38 673.26,1024.41C673.32,1026.44 673.38,1028.47 673.46,1030.49C673.53,1032.52 673.61,1034.54 673.69,1036.56C673.78,1038.59 673.87,1040.61 673.97,1042.63C674.07,1044.65 674.18,1046.67 674.30,1048.69C674.42,1050.70 674.55,1052.72 674.68,1054.73C674.82,1056.74 674.97,1058.76 675.13,1060.77C675.28,1062.78 675.45,1064.78 675.63,1066.79C675.81,1068.79 676.11,1071.80 676.20,1072.80"/>
<path d="M676.20,1072.80C676.19,1071.79 676.17,1068.75 676.16,1066.73C676.15,1064.70 676.15,1062.68 676.15,1060.66C676.15,1058.63 676.15,1056.61 676.16,1054.59C676.17,1052.57 676.18,1050.55 676.19,1048.53C676.20,1046.50 676.22,1044.48 676.24,1042.47C676.27,1040.45 676.29,1038.43 676.32,1036.41C676.35,1034.39 676.38,1032.37 676.42,1030.35C676.45,1028.33 676.49,1026.32 676.53,1024.30C676.58,1022.28 676.62,1020.27 676.67,1018.25C676.72,1016.23 676.77,1014.22 676.83,1012.20C676.88,1010.18 676.94,1008.17 677.01,1006.15C677.07,1004.14 677.13,1002.12 677.20,1000.11C677.27,998.09 677.34,996.08 677.42,994.06C677.49,992.05 677.57,990.03 677.65,988.02C677.73,986.01 677.81,983.99 677.90,981.98C677.98,979.96 678.07,977.95 678.16,975.94C678.26,973.92 678.35,971.91 678.45,969.89C678.54,967.88 678.64,965.87 678.75,963.85C678.85,961.84 678.95,959.83 679.06,957.81C679.17,955.80 679.28,953.79 679.39,951.77C679.50,949.76 679.62,947.74 679.74,945.73C679.85,943.72 679.97,941.70 680.10,939.69C680.22,937.67 680.34,935.66 680.47,933.64C680.60,931.63 680.73,929.62 680.86,927.60C680.99,925.59 681.12,923.57 681.26,921.56C681.39,919.54 681.53,917.52 681.67,915.51C681.81,913.49 681.96,911.48 682.10,909.46C682.25,907.45 682.40,905.43 682.56,903.42C682.71,901.40 682.87,899.39 683.03,897.37C683.19,895.36 683.36,893.34 683.53,891.33C683.70,889.31 683.87,887.30 684.06,885.29C684.24,883.27 684.42,881.26 684.61,879.25C684.81,877.24 685.00,875.23 685.21,873.22C685.41,871.20 685.62,869.20 685.84,867.19C686.05,865.18 686.28,863.17 686.51,861.16C686.74,859.16 686.97,857.15 687.22,855.14C687.46,853.14 687.71,851.14 687.97,849.13C688.23,847.13 688.50,845.13 688.78,843.13C689.05,841.13 689.34,839.13 689.63,837.13C689.93,835.13 690.23,833.14 690.54,831.14C690.85,829.15 691.17,827.16 691.51,825.17C691.84,823.18 692.18,821.19 692.53,819.20C692.88,817.21 693.23,815.23 693.60,813.24C693.97,811.26 694.35,809.28 694.74,807.30C695.12,805.31 695.52,803.34 695.93,801.36C696.33,799.38 696.75,797.41 697.17,795.44C697.60,793.47 698.03,791.50 698.48,789.53C698.92,787.56 699.38,785.60 699.84,783.63C700.30,781.67 700.78,779.71 701.26,777.75C701.74,775.79 702.23,773.84 702.74,771.88C703.24,769.93 703.75,767.98 704.27,766.03C704.79,764.08 705.32,762.14 705.86,760.20C706.41,758.25 706.96,756.31 707.52,754.38C708.08,752.44 708.65,750.50 709.23,748.57C709.81,746.64 710.40,744.71 711.00,742.79C711.60,740.86 712.21,738.94 712.83,737.02C713.45,735.10 714.08,733.18 714.72,731.27C715.35,729.36 716.00,727.45 716.65,725.54C717.30,723.63 717.96,721.72 718.62,719.81C719.28,717.91 719.94,716.00 720.61,714.10C721.27,712.19 721.93,710.29 722.59,708.38C723.25,706.48 723.91,704.57 724.56,702.66C725.21,700.76 725.86,698.85 726.50,696.94C727.14,695.03 727.77,693.11 728.39,691.20C729.01,689.28 729.62,687.37 730.22,685.44C730.81,683.52 731.40,681.60 731.97,679.67C732.54,677.74 733.10,675.81 733.64,673.87C734.19,671.93 734.72,669.99 735.24,668.05C735.76,666.11 736.27,664.16 736.76,662.21C737.26,660.26 737.75,658.31 738.22,656.36C738.69,654.40 739.16,652.44 739.61,650.48C740.06,648.52 740.50,646.56 740.93,644.59C741.37,642.62 741.79,640.65 742.20,638.68C742.61,636.71 743.02,634.73 743.41,632.76C743.80,630.78 744.19,628.80 744.57,626.82C744.94,624.84 745.31,622.85 745.67,620.87C746.03,618.88 746.38,616.89 746.73,614.90C747.07,612.91 747.41,610.92 747.74,608.92C748.07,606.93 748.39,604.93 748.71,602.94C749.03,600.94 749.34,598.94 749.64,596.94C749.95,594.94 750.24,592.94 750.54,590.93C750.83,588.93 751.12,586.92 751.40,584.92C751.68,582.91 751.96,580.90 752.24,578.89C752.51,576.88 752.78,574.87 753.04,572.86C753.31,570.85 753.57,568.84 753.83,566.83C754.09,564.82 754.34,562.80 754.60,560.79C754.85,558.78 755.10,556.76 755.34,554.75C755.59,552.73 755.84,550.71 756.08,548.70C756.32,546.68 756.56,544.67 756.80,542.65C757.04,540.63 757.28,538.62 757.52,536.60C757.76,534.58 758.00,532.56 758.23,530.55C758.47,528.53 758.71,526.51 758.94,524.50C759.18,522.48 759.42,520.46 759.65,518.45C759.89,516.43 760.13,514.42 760.37,512.40C760.61,510.38 760.85,508.37 761.10,506.36C761.34,504.34 761.58,502.33 761.83,500.32C762.08,498.30 762.33,496.29 762.58,494.28C762.83,492.27 763.09,490.26 763.35,488.25C763.61,486.24 763.87,484.23 764.13,482.23C764.40,480.22 764.67,478.22 764.94,476.21C765.22,474.21 765.49,472.21 765.78,470.20C766.06,468.20 766.35,466.20 766.64,464.21C766.94,462.21 767.24,460.21 767.54,458.22C767.85,456.22 768.16,454.23 768.47,452.24C768.79,450.25 769.11,448.26 769.44,446.28C769.78,444.29 770.11,442.31 770.46,440.32C770.80,438.34 771.16,436.36 771.52,434.38C771.88,432.41 772.24,430.43 772.62,428.46C773.00,426.49 773.38,424.52 773.78,422.55C774.17,420.58 774.58,418.62 774.99,416.66C775.40,414.70 775.82,412.74 776.26,410.78C776.69,408.83 777.13,406.87 777.59,404.92C778.04,402.98 778.50,401.03 778.98,399.09C779.45,397.14 779.94,395.20 780.43,393.27C780.93,391.33 781.44,389.40 781.96,387.47C782.48,385.54 783.02,383.61 783.56,381.69C784.11,379.77 784.66,377.85 785.24,375.94C785.81,374.02 786.39,372.11 786.99,370.20C787.59,368.30 788.20,366.40 788.82,364.50C789.44,362.60 790.08,360.70 790.73,358.81C791.38,356.92 792.04,355.04 792.72,353.16C793.40,351.27 794.09,349.40 794.79,347.52C795.50,345.65 796.22,343.78 796.95,341.92C797.68,340.05 798.43,338.20 799.19,336.34C799.95,334.49 800.73,332.64 801.52,330.79C802.31,328.95 803.11,327.11 803.93,325.27C804.75,323.43 805.58,321.60 806.43,319.78C807.28,317.95 808.14,316.13 809.02,314.32C809.90,312.50 810.80,310.69 811.70,308.89C812.61,307.08 813.54,305.28 814.48,303.49C815.42,301.69 816.37,299.91 817.34,298.12C818.31,296.34 819.30,294.56 820.30,292.79C821.30,291.02 822.32,289.25 823.35,287.49C824.39,285.73 825.44,283.97 826.50,282.23C827.57,280.48 828.65,278.74 829.75,277.01C830.85,275.28 831.96,273.55 833.09,271.84C834.22,270.13 835.36,268.42 836.52,266.73C837.69,265.04 838.86,263.35 840.06,261.68C841.25,260.01 842.46,258.36 843.68,256.71C844.91,255.07 846.15,253.44 847.40,251.82C848.66,250.21 849.93,248.60 851.22,247.02C852.50,245.43 853.81,243.86 855.13,242.31C856.45,240.76 857.78,239.23 859.13,237.71C860.48,236.19 861.85,234.69 863.23,233.22C864.61,231.74 866.01,230.28 867.42,228.84C868.83,227.40 870.26,225.98 871.70,224.58C873.14,223.18 874.60,221.79 876.07,220.43C877.54,219.07 879.03,217.72 880.53,216.40C882.03,215.07 883.55,213.76 885.07,212.47C886.60,211.19 888.14,209.92 889.70,208.66C891.25,207.41 892.82,206.18 894.40,204.96C895.99,203.75 897.58,202.55 899.19,201.37C900.79,200.19 902.41,199.03 904.05,197.89C905.68,196.74 907.32,195.62 908.98,194.51C910.63,193.40 912.30,192.31 913.98,191.24C915.66,190.17 917.35,189.11 919.06,188.07C920.76,187.04 922.47,186.01 924.20,185.01C925.92,184.01 927.65,183.02 929.40,182.05C931.15,181.08 932.90,180.13 934.67,179.19C936.43,178.26 938.21,177.34 939.99,176.43C941.78,175.53 943.57,174.65 945.38,173.78C947.18,172.91 949.00,172.05 950.82,171.22C952.64,170.38 954.47,169.56 956.32,168.75C958.16,167.95 960.00,167.16 961.86,166.39C963.72,165.61 965.58,164.86 967.46,164.11C969.33,163.37 971.21,162.65 973.10,161.94C974.99,161.23 976.88,160.53 978.79,159.85C980.69,159.17 982.60,158.51 984.52,157.86C986.43,157.21 988.36,156.58 990.29,155.96C992.22,155.34 994.15,154.74 996.09,154.16C998.04,153.58 999.98,153.01 1001.94,152.46C1003.89,151.90 1005.85,151.37 1007.81,150.85C1009.78,150.33 1011.75,149.83 1013.72,149.35C1015.69,148.87 1017.67,148.40 1019.65,147.95C1021.64,147.50 1023.62,147.07 1025.62,146.66C1027.61,146.24 1029.60,145.85 1031.60,145.47C1033.60,145.09 1035.60,144.73 1037.61,144.39C1039.61,144.05 1041.62,143.73 1043.63,143.43C1045.64,143.12 1047.66,142.84 1049.67,142.57C1051.69,142.31 1053.71,142.06 1055.73,141.84C1057.75,141.61 1059.77,141.40 1061.79,141.21C1063.82,141.03 1065.84,140.86 1067.87,140.71C1069.90,140.56 1071.93,140.43 1073.95,140.33C1075.98,140.22 1078.01,140.13 1080.04,140.07C1082.07,140.00 1084.10,139.95 1086.13,139.93C1088.16,139.90 1090.19,139.90 1092.22,139.92C1094.25,139.93 1096.28,139.97 1098.31,140.03C1100.34,140.09 1102.37,140.18 1104.39,140.28C1106.42,140.38 1108.45,140.51 1110.47,140.66C1112.49,140.81 1114.51,140.98 1116.52,141.19C1118.52,141.41 1120.53,141.65 1122.51,141.94C1124.49,142.24 1126.45,142.57 1128.39,142.97C1130.33,143.38 1132.25,143.82 1134.13,144.35C1136.02,144.88 1137.87,145.46 1139.69,146.14C1141.50,146.81 1143.28,147.56 1145.01,148.40C1146.75,149.25 1148.44,150.17 1150.07,151.20C1151.71,152.24 1153.30,153.36 1154.82,154.61C1156.35,155.86 1157.82,157.21 1159.22,158.69C1160.62,160.17 1161.96,161.76 1163.23,163.49C1164.49,165.23 1166.21,168.17 1166.80,169.10"/>
</g>
<circle cx="676.6" cy="1072.8" r="4.0" fill="#ff8000"/>
<g fill="#fff" stroke="#ff8000" stroke-width="1.3">
<circle cx="273.6" cy="534.7" r="7.2"/>
<circle cx="354.3" cy="614.4" r="7.2"/>
<circle cx="435.7" cy="648.4" r="7.2"/>
<circle cx="516.9" cy="680.2" r="7.2"/>
<circle cx="599.2" cy="723.4" r="7.2"/>
<circle cx="680.5" cy="924.5" r="7.2"/>
<circle cx="762.0" cy="502.4" r="7.2"/>
<circle cx="843.3" cy="260.0" r="7.2"/>
<circle cx="925.5" cy="184.2" r="7.2"/>
<circle cx="1006.5" cy="152.8" r="7.2"/>
<circle cx="1088.4" cy="139.8" r="7.2"/>
</g>
<g fill="none" stroke="#0000ff" stroke-width="8.0" stroke-linecap="butt" stroke-linejoin="round">
<path d="M289.30,278.00C289.36,278.98 289.55,281.92 289.68,283.89C289.81,285.85 289.94,287.83 290.08,289.80C290.22,291.78 290.37,293.76 290.52,295.74C290.67,297.73 290.83,299.71 290.99,301.71C291.15,303.70 291.32,305.69 291.50,307.69C291.67,309.69 291.85,311.69 292.04,313.70C292.23,315.70 292.42,317.71 292.62,319.72C292.83,321.72 293.04,323.74 293.25,325.75C293.47,327.76 293.69,329.78 293.92,331.79C294.16,333.81 294.40,335.83 294.65,337.84C294.89,339.86 295.15,341.88 295.42,343.90C295.68,345.92 295.96,347.94 296.24,349.96C296.52,351.98 296.82,354.00 297.12,356.02C297.42,358.04 297.74,360.06 298.06,362.08C298.38,364.10 298.71,366.12 299.06,368.13C299.40,370.15 299.75,372.16 300.12,374.18C300.49,376.19 300.86,378.20 301.25,380.21C301.64,382.22 302.03,384.23 302.44,386.23C302.85,388.24 303.28,390.24 303.71,392.24C304.15,394.24 304.59,396.24 305.05,398.23C305.51,400.22 305.98,402.21 306.47,404.20C306.95,406.18 307.45,408.17 307.96,410.14C308.47,412.12 309.00,414.10 309.54,416.06C310.08,418.03 310.63,420.00 311.20,421.95C311.77,423.91 312.35,425.87 312.94,427.81C313.54,429.76 314.15,431.70 314.78,433.64C315.40,435.58 316.05,437.51 316.70,439.43C317.36,441.35 318.03,443.27 318.72,445.18C319.41,447.09 320.11,449.00 320.84,450.89C321.56,452.79 322.29,454.68 323.05,456.56C323.80,458.44 324.58,460.31 325.36,462.18C326.15,464.04 326.96,465.90 327.78,467.75C328.61,469.59 329.45,471.43 330.31,473.26C331.17,475.09 332.05,476.91 332.94,478.72C333.84,480.53 334.76,482.33 335.69,484.11C336.63,485.90 337.58,487.67 338.56,489.43C339.54,491.19 340.53,492.94 341.55,494.67C342.57,496.40 343.61,498.12 344.67,499.82C345.73,501.52 346.81,503.20 347.91,504.87C349.02,506.54 350.15,508.19 351.30,509.82C352.45,511.45 353.62,513.07 354.82,514.66C356.01,516.26 357.23,517.83 358.48,519.39C359.72,520.94 360.99,522.48 362.29,523.99C363.58,525.50 364.90,526.99 366.24,528.45C367.59,529.92 368.96,531.36 370.36,532.78C371.75,534.20 373.18,535.60 374.62,536.97C376.07,538.35 377.54,539.70 379.03,541.03C380.53,542.36 382.04,543.67 383.57,544.97C385.11,546.26 386.66,547.54 388.23,548.80C389.80,550.06 391.39,551.31 392.99,552.54C394.60,553.77 396.22,554.99 397.85,556.19C399.48,557.40 401.13,558.59 402.79,559.77C404.44,560.96 406.11,562.13 407.79,563.30C409.47,564.46 411.16,565.62 412.85,566.77C414.54,567.92 416.25,569.07 417.95,570.21C419.66,571.35 421.37,572.48 423.09,573.62C424.80,574.75 426.52,575.89 428.24,577.02C429.96,578.15 431.68,579.28 433.40,580.42C435.12,581.55 436.84,582.68 438.55,583.82C440.27,584.96 441.98,586.11 443.69,587.25C445.39,588.40 447.10,589.56 448.79,590.72C450.48,591.88 452.17,593.05 453.85,594.23C455.53,595.41 457.20,596.60 458.85,597.79C460.51,598.99 462.16,600.20 463.79,601.42C465.42,602.65 467.04,603.88 468.64,605.12C470.24,606.37 471.83,607.63 473.39,608.91C474.96,610.18 476.51,611.47 478.04,612.78C479.56,614.08 481.07,615.40 482.56,616.74C484.04,618.08 485.50,619.44 486.94,620.81C488.37,622.19 489.79,623.58 491.17,625.00C492.55,626.41 493.91,627.85 495.24,629.30C496.56,630.76 497.86,632.24 499.13,633.74C500.39,635.24 501.63,636.76 502.82,638.31C504.02,639.86 505.19,641.43 506.32,643.03C507.45,644.63 508.54,646.25 509.59,647.90C510.65,649.55 511.67,651.22 512.66,652.92C513.64,654.62 514.59,656.34 515.51,658.08C516.43,659.82 517.31,661.58 518.16,663.37C519.02,665.15 519.83,666.95 520.62,668.77C521.41,670.59 522.17,672.43 522.90,674.29C523.63,676.14 524.32,678.01 524.99,679.90C525.67,681.78 526.31,683.69 526.92,685.60C527.54,687.52 528.12,689.44 528.68,691.38C529.25,693.32 529.78,695.27 530.29,697.23C530.80,699.19 531.29,701.17 531.75,703.15C532.21,705.12 532.65,707.11 533.07,709.11C533.49,711.10 533.88,713.10 534.26,715.11C534.63,717.12 534.98,719.13 535.32,721.15C535.65,723.16 535.97,725.19 536.27,727.22C536.56,729.24 536.84,731.28 537.11,733.31C537.37,735.35 537.62,737.39 537.85,739.43C538.08,741.47 538.30,743.52 538.51,745.57C538.71,747.62 538.90,749.67 539.09,751.72C539.27,753.77 539.43,755.83 539.59,757.88C539.75,759.94 539.90,762.00 540.04,764.05C540.18,766.11 540.31,768.17 540.43,770.22C540.56,772.28 540.67,774.34 540.79,776.39C540.90,778.45 541.00,780.50 541.10,782.55C541.21,784.60 541.30,786.65 541.40,788.70C541.49,790.75 541.58,792.79 541.67,794.84C541.76,796.88 541.85,798.92 541.94,800.95C542.02,802.99 542.11,805.03 542.19,807.06C542.27,809.09 542.35,811.12 542.43,813.15C542.50,815.18 542.58,817.20 542.65,819.22C542.73,821.25 542.80,823.27 542.87,825.29C542.94,827.31 543.01,829.32 543.07,831.34C543.14,833.36 543.20,835.37 543.26,837.38C543.33,839.40 543.39,841.41 543.45,843.42C543.51,845.43 543.56,847.43 543.62,849.44C543.68,851.45 543.73,853.45 543.78,855.46C543.83,857.46 543.89,859.46 543.94,861.46C543.98,863.47 544.03,865.47 544.08,867.47C544.13,869.47 544.17,871.47 544.22,873.47C544.26,875.46 544.30,877.46 544.34,879.46C544.38,881.46 544.42,883.45 544.46,885.45C544.50,887.45 544.54,889.44 544.57,891.44C544.61,893.43 544.65,895.43 544.68,897.42C544.71,899.42 544.75,901.41 544.78,903.41C544.81,905.41 544.84,907.40 544.87,909.40C544.90,911.39 544.93,913.39 544.96,915.38C544.98,917.38 545.01,919.38 545.04,921.37C545.06,923.37 545.09,925.37 545.11,927.36C545.14,929.36 545.16,931.36 545.18,933.36C545.21,935.36 545.23,937.36 545.25,939.36C545.27,941.36 545.29,943.36 545.31,945.37C545.33,947.37 545.35,949.37 545.37,951.38C545.39,953.39 545.41,955.39 545.42,957.40C545.44,959.41 545.46,961.42 545.48,963.43C545.49,965.44 545.51,967.45 545.52,969.47C545.54,971.48 545.56,973.50 545.57,975.51C545.59,977.53 545.60,979.55 545.62,981.57C545.63,983.59 545.65,985.62 545.66,987.64C545.68,989.67 545.69,991.70 545.70,993.73C545.72,995.76 545.73,997.79 545.75,999.82C545.76,1001.86 545.77,1003.90 545.79,1005.94C545.80,1007.98 545.81,1010.02 545.83,1012.06C545.84,1014.11 545.86,1016.16 545.87,1018.21C545.88,1020.26 545.90,1022.31 545.91,1024.37C545.93,1026.42 545.94,1028.48 545.96,1030.55C545.97,1032.61 545.99,1034.67 546.00,1036.74C546.02,1038.81 546.03,1040.89 546.05,1042.96C546.07,1045.04 546.09,1048.16 546.10,1049.20"/>
<path d="M546.10,1049.20C546.14,1048.19 546.26,1045.15 546.34,1043.13C546.41,1041.11 546.49,1039.08 546.56,1037.06C546.63,1035.04 546.70,1033.02 546.77,1030.99C546.84,1028.97 546.91,1026.95 546.97,1024.93C547.04,1022.91 547.10,1020.89 547.16,1018.86C547.22,1016.84 547.28,1014.82 547.34,1012.80C547.39,1010.78 547.45,1008.76 547.50,1006.74C547.56,1004.72 547.61,1002.70 547.66,1000.68C547.71,998.66 547.76,996.64 547.81,994.62C547.85,992.60 547.90,990.58 547.95,988.57C547.99,986.55 548.04,984.53 548.08,982.51C548.12,980.49 548.16,978.47 548.20,976.45C548.25,974.44 548.29,972.42 548.32,970.40C548.36,968.38 548.40,966.36 548.44,964.35C548.48,962.33 548.51,960.31 548.55,958.29C548.59,956.28 548.62,954.26 548.66,952.24C548.69,950.23 548.72,948.21 548.76,946.19C548.79,944.17 548.83,942.16 548.86,940.14C548.89,938.12 548.92,936.11 548.96,934.09C548.99,932.08 549.02,930.06 549.05,928.04C549.09,926.03 549.12,924.01 549.15,921.99C549.18,919.98 549.22,917.96 549.25,915.94C549.28,913.93 549.31,911.91 549.35,909.90C549.38,907.88 549.41,905.86 549.45,903.85C549.48,901.83 549.52,899.82 549.55,897.80C549.59,895.78 549.62,893.77 549.66,891.75C549.69,889.74 549.73,887.72 549.77,885.71C549.80,883.69 549.84,881.67 549.88,879.66C549.92,877.64 549.96,875.63 550.00,873.61C550.04,871.59 550.08,869.58 550.12,867.56C550.17,865.55 550.21,863.53 550.25,861.51C550.30,859.50 550.35,857.48 550.39,855.46C550.44,853.45 550.49,851.43 550.54,849.41C550.59,847.40 550.64,845.38 550.69,843.36C550.75,841.35 550.80,839.33 550.86,837.31C550.92,835.30 550.97,833.28 551.03,831.26C551.09,829.25 551.16,827.23 551.22,825.21C551.28,823.19 551.35,821.18 551.42,819.16C551.48,817.14 551.55,815.12 551.62,813.11C551.70,811.09 551.77,809.07 551.85,807.05C551.92,805.03 552.00,803.02 552.08,801.00C552.16,798.98 552.25,796.96 552.33,794.94C552.42,792.92 552.50,790.90 552.60,788.88C552.69,786.86 552.78,784.85 552.88,782.83C552.97,780.81 553.07,778.79 553.17,776.77C553.27,774.75 553.38,772.73 553.48,770.70C553.59,768.68 553.70,766.66 553.82,764.64C553.93,762.62 554.05,760.60 554.17,758.58C554.29,756.56 554.41,754.54 554.54,752.52C554.67,750.50 554.81,748.48 554.95,746.46C555.09,744.44 555.23,742.42 555.38,740.40C555.53,738.38 555.69,736.36 555.85,734.34C556.01,732.32 556.18,730.31 556.35,728.29C556.52,726.27 556.70,724.26 556.89,722.24C557.08,720.23 557.27,718.21 557.48,716.20C557.68,714.19 557.89,712.18 558.11,710.17C558.32,708.16 558.55,706.15 558.78,704.14C559.02,702.13 559.26,700.12 559.51,698.12C559.77,696.11 560.03,694.11 560.30,692.11C560.57,690.11 560.85,688.11 561.14,686.11C561.43,684.11 561.73,682.11 562.04,680.12C562.36,678.13 562.68,676.13 563.01,674.14C563.35,672.15 563.69,670.16 564.05,668.18C564.40,666.19 564.77,664.21 565.15,662.23C565.53,660.25 565.92,658.27 566.33,656.29C566.73,654.31 567.15,652.34 567.58,650.37C568.01,648.40 568.46,646.43 568.91,644.47C569.37,642.50 569.84,640.54 570.33,638.58C570.81,636.62 571.31,634.66 571.83,632.71C572.34,630.76 572.87,628.81 573.41,626.86C573.95,624.91 574.51,622.97 575.07,621.03C575.64,619.09 576.23,617.16 576.82,615.23C577.42,613.30 578.03,611.37 578.65,609.45C579.28,607.53 579.91,605.61 580.56,603.69C581.22,601.78 581.88,599.87 582.56,597.97C583.24,596.07 583.93,594.17 584.63,592.27C585.34,590.38 586.06,588.49 586.79,586.61C587.52,584.73 588.27,582.85 589.03,580.98C589.79,579.11 590.56,577.24 591.35,575.38C592.13,573.52 592.93,571.67 593.74,569.82C594.56,567.97 595.38,566.13 596.22,564.30C597.06,562.46 597.92,560.63 598.78,558.81C599.65,556.99 600.53,555.18 601.42,553.37C602.31,551.56 603.22,549.76 604.14,547.97C605.06,546.18 605.99,544.39 606.93,542.61C607.88,540.83 608.84,539.06 609.81,537.30C610.78,535.54 611.77,533.78 612.76,532.04C613.76,530.29 614.77,528.55 615.80,526.82C616.82,525.09 617.86,523.37 618.90,521.65C619.95,519.94 621.01,518.23 622.07,516.53C623.14,514.83 624.22,513.13 625.30,511.44C626.39,509.75 627.48,508.06 628.58,506.38C629.68,504.69 630.78,503.02 631.89,501.34C633.00,499.66 634.12,497.99 635.23,496.32C636.35,494.65 637.47,492.98 638.59,491.31C639.71,489.64 640.84,487.97 641.96,486.30C643.08,484.63 644.20,482.96 645.33,481.29C646.45,479.62 647.57,477.95 648.68,476.27C649.80,474.60 650.91,472.92 652.02,471.24C653.13,469.56 654.23,467.87 655.33,466.19C656.42,464.50 657.51,462.80 658.59,461.10C659.67,459.40 660.75,457.70 661.81,455.99C662.88,454.28 663.93,452.56 664.98,450.83C666.02,449.10 667.05,447.37 668.07,445.63C669.09,443.88 670.10,442.13 671.09,440.37C672.08,438.61 673.06,436.84 674.02,435.06C674.98,433.28 675.93,431.48 676.86,429.68C677.80,427.88 678.72,426.07 679.63,424.26C680.54,422.44 681.44,420.61 682.33,418.78C683.22,416.95 684.10,415.11 684.97,413.27C685.84,411.43 686.70,409.58 687.55,407.73C688.41,405.87 689.25,404.01 690.10,402.15C690.94,400.29 691.77,398.43 692.60,396.56C693.44,394.69 694.26,392.83 695.09,390.96C695.91,389.09 696.74,387.21 697.56,385.34C698.38,383.47 699.20,381.60 700.02,379.73C700.84,377.86 701.66,375.99 702.48,374.12C703.30,372.25 704.12,370.39 704.95,368.52C705.78,366.66 706.61,364.80 707.44,362.95C708.27,361.09 709.11,359.24 709.96,357.40C710.80,355.55 711.65,353.71 712.51,351.88C713.37,350.04 714.24,348.21 715.11,346.39C715.99,344.58 716.87,342.76 717.76,340.96C718.66,339.15 719.56,337.36 720.48,335.57C721.40,333.79 722.33,332.01 723.27,330.25C724.21,328.48 725.16,326.72 726.14,324.98C727.11,323.24 728.09,321.51 729.09,319.79C730.09,318.07 731.11,316.36 732.15,314.67C733.18,312.98 734.24,311.30 735.31,309.64C736.38,307.98 737.47,306.33 738.59,304.70C739.70,303.07 740.83,301.45 741.98,299.85C743.13,298.25 744.30,296.66 745.49,295.09C746.68,293.52 747.89,291.97 749.11,290.42C750.34,288.88 751.59,287.36 752.85,285.84C754.11,284.33 755.39,282.83 756.69,281.35C757.99,279.86 759.30,278.39 760.63,276.93C761.97,275.48 763.32,274.03 764.68,272.60C766.05,271.17 767.43,269.76 768.83,268.35C770.23,266.95 771.64,265.56 773.07,264.18C774.50,262.81 775.95,261.44 777.41,260.09C778.87,258.74 780.35,257.40 781.84,256.07C783.33,254.74 784.84,253.43 786.36,252.12C787.88,250.82 789.41,249.53 790.96,248.25C792.51,246.97 794.07,245.70 795.65,244.45C797.23,243.19 798.82,241.95 800.42,240.71C802.02,239.48 803.63,238.26 805.26,237.04C806.89,235.83 808.53,234.63 810.18,233.44C811.83,232.25 813.50,231.07 815.17,229.90C816.85,228.73 818.54,227.57 820.23,226.42C821.93,225.27 823.64,224.13 825.36,223.00C827.08,221.87 828.81,220.75 830.55,219.64C832.30,218.53 834.05,217.44 835.81,216.35C837.57,215.27 839.34,214.19 841.12,213.13C842.90,212.07 844.69,211.03 846.49,209.99C848.29,208.96 850.09,207.94 851.91,206.94C853.72,205.94 855.55,204.95 857.38,203.98C859.21,203.01 861.05,202.05 862.90,201.11C864.74,200.18 866.60,199.25 868.46,198.35C870.32,197.45 872.19,196.56 874.06,195.70C875.94,194.84 877.82,193.99 879.70,193.16C881.59,192.34 883.48,191.53 885.38,190.75C887.28,189.96 889.18,189.20 891.09,188.46C893.00,187.72 894.92,187.00 896.84,186.31C898.75,185.61 900.68,184.94 902.61,184.29C904.53,183.64 906.46,183.02 908.40,182.42C910.33,181.82 912.27,181.25 914.22,180.70C916.16,180.16 918.10,179.64 920.05,179.14C922.00,178.65 923.95,178.18 925.90,177.75C927.86,177.31 929.81,176.90 931.77,176.52C933.73,176.14 935.69,175.79 937.65,175.47C939.61,175.15 941.57,174.86 943.53,174.60C945.49,174.34 947.46,174.11 949.42,173.92C951.38,173.72 953.35,173.56 955.31,173.43C957.28,173.30 959.24,173.20 961.20,173.14C963.17,173.08 965.13,173.05 967.09,173.06C969.05,173.07 971.02,173.11 972.97,173.19C974.93,173.28 976.89,173.40 978.84,173.56C980.79,173.72 982.74,173.92 984.69,174.17C986.63,174.42 988.58,174.71 990.51,175.05C992.45,175.39 994.38,175.78 996.30,176.21C998.22,176.65 1000.14,177.13 1002.05,177.67C1003.96,178.21 1005.86,178.80 1007.76,179.44C1009.65,180.09 1011.54,180.79 1013.41,181.54C1015.29,182.30 1017.15,183.12 1019.01,183.99C1020.86,184.87 1022.71,185.80 1024.54,186.80C1026.37,187.80 1029.09,189.46 1030.00,190.00"/>
</g>
<circle cx="546.5" cy="1049.2" r="4.0" fill="#0000ff"/>
<g fill="#fff" stroke="#0000ff" stroke-width="1.3">
<circle cx="287.6" cy="276.6" r="7.2"/>
<circle cx="369.2" cy="532.5" r="7.2"/>
<circle cx="450.5" cy="592.7" r="7.2"/>
<circle cx="532.0" cy="710.1" r="7.2"/>
<circle cx="614.2" cy="527.8" r="7.2"/>
<circle cx="695.2" cy="391.9" r="7.2"/>
<circle cx="776.9" cy="260.7" r="7.2"/>
<circle cx="858.3" cy="203.1" r="7.2"/>
<circle cx="939.3" cy="175.1" r="7.2"/>
<circle cx="1021.7" cy="185.3" r="7.2"/>
</g>
<g fill="#000">
<rect x="166.2" y="22" width="8.2" height="1158.6"/>
<rect x="1593.1" y="22" width="8.3" height="1158.6"/>
<rect x="166.2" y="22" width="1437.8" height="8.2"/>
<rect x="166.2" y="1170.6" width="1437.8" height="8.3"/>
<rect x="170" y="60.9" width="13.0" height="7.8"/>
<rect x="170" y="100.5" width="13.0" height="7.8"/>
<rect x="170" y="140.2" width="13.0" height="7.8"/>
<rect x="170" y="179.8" width="22.8" height="7.8"/>
<rect x="170" y="219.4" width="13.0" height="7.8"/>
<rect x="170" y="259.1" width="13.0" height="7.8"/>
<rect x="170" y="298.7" width="13.0" height="7.8"/>
<rect x="170" y="338.4" width="13.0" height="7.8"/>
<rect x="170" y="378.0" width="22.8" height="7.8"/>
<rect x="170" y="417.6" width="13.0" height="7.8"/>
<rect x="170" y="457.3" width="13.0" height="7.8"/>
<rect x="170" y="496.9" width="13.0" height="7.8"/>
<rect x="170" y="536.6" width="13.0" height="7.8"/>
<rect x="170" y="576.2" width="22.8" height="7.8"/>
<rect x="170" y="615.8" width="13.0" height="7.8"/>
<rect x="170" y="655.5" width="13.0" height="7.8"/>
<rect x="170" y="695.1" width="13.0" height="7.8"/>
<rect x="170" y="734.8" width="13.0" height="7.8"/>
<rect x="170" y="774.4" width="22.8" height="7.8"/>
<rect x="170" y="814.0" width="13.0" height="7.8"/>
<rect x="170" y="853.7" width="13.0" height="7.8"/>
<rect x="170" y="893.3" width="13.0" height="7.8"/>
<rect x="170" y="933.0" width="13.0" height="7.8"/>
<rect x="170" y="972.6" width="22.8" height="7.8"/>
<rect x="170" y="1012.2" width="13.0" height="7.8"/>
<rect x="170" y="1051.9" width="13.0" height="7.8"/>
<rect x="170" y="1091.5" width="13.0" height="7.8"/>
<rect x="170" y="1131.2" width="13.0" height="7.8"/>
<rect x="170" y="1170.8" width="22.8" height="7.8"/>
<rect x="166.4" y="1152.2" width="7.8" height="22.8"/>
<rect x="207.2" y="1164.0" width="7.8" height="11.0"/>
<rect x="247.9" y="1164.0" width="7.8" height="11.0"/>
<rect x="288.7" y="1164.0" width="7.8" height="11.0"/>
<rect x="329.5" y="1164.0" width="7.8" height="11.0"/>
<rect x="370.3" y="1152.2" width="7.8" height="22.8"/>
<rect x="411.0" y="1164.0" width="7.8" height="11.0"/>
<rect x="451.8" y="1164.0" width="7.8" height="11.0"/>
<rect x="492.6" y="1164.0" width="7.8" height="11.0"/>
<rect x="533.3" y="1164.0" width="7.8" height="11.0"/>
<rect x="574.1" y="1152.2" width="7.8" height="22.8"/>
<rect x="614.9" y="1164.0" width="7.8" height="11.0"/>
<rect x="655.7" y="1164.0" width="7.8" height="11.0"/>
<rect x="696.4" y="1164.0" width="7.8" height="11.0"/>
<rect x="737.2" y="1164.0" width="7.8" height="11.0"/>
<rect x="778.0" y="1152.2" width="7.8" height="22.8"/>
<rect x="818.7" y="1164.0" width="7.8" height="11.0"/>
<rect x="859.5" y="1164.0" width="7.8" height="11.0"/>
<rect x="900.3" y="1164.0" width="7.8" height="11.0"/>
<rect x="941.1" y="1164.0" width="7.8" height="11.0"/>
<rect x="981.8" y="1152.2" width="7.8" height="22.8"/>
<rect x="1022.6" y="1164.0" width="7.8" height="11.0"/>
<rect x="1063.4" y="1164.0" width="7.8" height="11.0"/>
<rect x="1104.1" y="1164.0" width="7.8" height="11.0"/>
<rect x="1144.9" y="1164.0" width="7.8" height="11.0"/>
<rect x="1185.7" y="1152.2" width="7.8" height="22.8"/>
<rect x="1226.5" y="1164.0" width="7.8" height="11.0"/>
<rect x="1267.2" y="1164.0" width="7.8" height="11.0"/>
<rect x="1308.0" y="1164.0" width="7.8" height="11.0"/>
<rect x="1348.8" y="1164.0" width="7.8" height="11.0"/>
<rect x="1389.5" y="1152.2" width="7.8" height="22.8"/>
<rect x="1430.3" y="1164.0" width="7.8" height="11.0"/>
<rect x="1471.1" y="1164.0" width="7.8" height="11.0"/>
<rect x="1511.9" y="1164.0" width="7.8" height="11.0"/>
<rect x="1552.6" y="1164.0" width="7.8" height="11.0"/>
<rect x="1593.4" y="1152.2" width="7.8" height="22.8"/>
</g>
<text class="tk" transform="translate(146.5,198.7) scale(1,1.04)" text-anchor="end">–2</text>
<text class="tk" transform="translate(146.5,396.9) scale(1,1.04)" text-anchor="end">–3</text>
<text class="tk" transform="translate(146.5,595.1) scale(1,1.04)" text-anchor="end">–4</text>
<text class="tk" transform="translate(146.5,793.3) scale(1,1.04)" text-anchor="end">–5</text>
<text class="tk" transform="translate(146.5,991.5) scale(1,1.04)" text-anchor="end">–6</text>
<text class="tk" transform="translate(146.5,1189.7) scale(1,1.04)" text-anchor="end">–7</text>
<text class="tk" transform="translate(209.8,1238) scale(1,1.04)" text-anchor="end">–1.2</text>
<text class="tk" transform="translate(411.9,1238) scale(1,1.04)" text-anchor="end">–1.1</text>
<text class="tk" transform="translate(617.0,1238) scale(1,1.04)" text-anchor="end">–1.0</text>
<text class="tk" transform="translate(822.9,1238) scale(1,1.04)" text-anchor="end">–0.9</text>
<text class="tk" transform="translate(1025.3,1238) scale(1,1.04)" text-anchor="end">–0.8</text>
<text class="tk" transform="translate(1228.6,1238) scale(1,1.04)" text-anchor="end">–0.7</text>
<text class="tk" transform="translate(1431.5,1238) scale(1,1.04)" text-anchor="end">–0.6</text>
<text class="tk" transform="translate(1636.1,1238) scale(1,1.04)" text-anchor="end">–0.5</text>
<text class="ti" transform="translate(0,1307.4) scale(1,1.03)"><tspan x="548">Potential / V</tspan><tspan class="pa" x="872.3" dy="-2.14">（</tspan><tspan x="928.5" dy="2.14">vs. Ag/AgCl</tspan><tspan class="pa" x="1241.3" dy="-2.14">）</tspan></text>
<text class="ti" transform="translate(69.9,691.5) rotate(-90) scale(1,1.03)">Log I</text>
<line x1="1204.3" y1="629" x2="1334.3" y2="629" stroke="#e80000" stroke-width="8.0" stroke-linecap="butt"/>
<ellipse cx="1268.8" cy="628.7" rx="5" ry="7.6" fill="#fff" stroke="#e80000" stroke-width="1.5" stroke-opacity="0.7"/>
<text class="lg" transform="translate(1340.0,646.8) scale(1.05,1)">28<tspan class="dc" x="54.3" dy="-0.3">℃</tspan></text>
<line x1="1204.3" y1="697" x2="1334.3" y2="697" stroke="#008000" stroke-width="8.0" stroke-linecap="butt"/>
<ellipse cx="1268.8" cy="696.7" rx="5" ry="7.6" fill="#fff" stroke="#008000" stroke-width="1.5" stroke-opacity="0.7"/>
<text class="lg" transform="translate(1340.0,714.8) scale(1.05,1)">40<tspan class="dc" x="54.3" dy="-0.3">℃</tspan></text>
<line x1="1204.3" y1="765" x2="1334.3" y2="765" stroke="#ff8000" stroke-width="8.0" stroke-linecap="butt"/>
<ellipse cx="1268.8" cy="764.7" rx="5" ry="7.6" fill="#fff" stroke="#ff8000" stroke-width="1.5" stroke-opacity="0.7"/>
<text class="lg" transform="translate(1340.0,782.8) scale(1.05,1)">60<tspan class="dc" x="54.3" dy="-0.3">℃</tspan></text>
<line x1="1204.3" y1="833" x2="1334.3" y2="833" stroke="#0000ff" stroke-width="8.0" stroke-linecap="butt"/>
<ellipse cx="1268.8" cy="832.7" rx="5" ry="7.6" fill="#fff" stroke="#0000ff" stroke-width="1.5" stroke-opacity="0.7"/>
<text class="lg" transform="translate(1340.0,850.8) scale(1.05,1)">80<tspan class="dc" x="54.3" dy="-0.3">℃</tspan></text>
</svg></body></html>
